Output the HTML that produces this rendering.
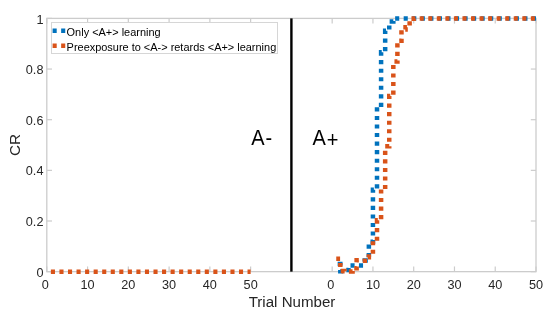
<!DOCTYPE html>
<html><head><meta charset="utf-8"><style>
html,body{margin:0;padding:0;background:#fff;width:550px;height:315px;overflow:hidden}
svg{display:block}
text{font-family:"Liberation Sans",Arial,Helvetica,sans-serif}
.tk{font-size:13.5px;fill:#262626}
.xl{font-size:15.5px;fill:#262626}
.yl{font-size:15px;fill:#262626}
.big{font-size:22.2px;fill:#000}
.lg{font-size:11.5px;fill:#000}
</style></head><body>
<svg width="550" height="315" viewBox="0 0 550 315">
<rect x="46.8" y="18.4" width="489.20" height="253.25" fill="#fff" stroke="#cccccc" stroke-width="1.3"/>
<line x1="46.80" y1="271.65" x2="46.80" y2="266.45" stroke="#cccccc" stroke-width="1.2"/>
<line x1="46.80" y1="18.40" x2="46.80" y2="23.60" stroke="#cccccc" stroke-width="1.2"/>
<line x1="87.57" y1="271.65" x2="87.57" y2="266.45" stroke="#cccccc" stroke-width="1.2"/>
<line x1="87.57" y1="18.40" x2="87.57" y2="23.60" stroke="#cccccc" stroke-width="1.2"/>
<line x1="128.33" y1="271.65" x2="128.33" y2="266.45" stroke="#cccccc" stroke-width="1.2"/>
<line x1="128.33" y1="18.40" x2="128.33" y2="23.60" stroke="#cccccc" stroke-width="1.2"/>
<line x1="169.10" y1="271.65" x2="169.10" y2="266.45" stroke="#cccccc" stroke-width="1.2"/>
<line x1="169.10" y1="18.40" x2="169.10" y2="23.60" stroke="#cccccc" stroke-width="1.2"/>
<line x1="209.87" y1="271.65" x2="209.87" y2="266.45" stroke="#cccccc" stroke-width="1.2"/>
<line x1="209.87" y1="18.40" x2="209.87" y2="23.60" stroke="#cccccc" stroke-width="1.2"/>
<line x1="250.63" y1="271.65" x2="250.63" y2="266.45" stroke="#cccccc" stroke-width="1.2"/>
<line x1="250.63" y1="18.40" x2="250.63" y2="23.60" stroke="#cccccc" stroke-width="1.2"/>
<line x1="332.17" y1="271.65" x2="332.17" y2="266.45" stroke="#cccccc" stroke-width="1.2"/>
<line x1="332.17" y1="18.40" x2="332.17" y2="23.60" stroke="#cccccc" stroke-width="1.2"/>
<line x1="372.94" y1="271.65" x2="372.94" y2="266.45" stroke="#cccccc" stroke-width="1.2"/>
<line x1="372.94" y1="18.40" x2="372.94" y2="23.60" stroke="#cccccc" stroke-width="1.2"/>
<line x1="413.70" y1="271.65" x2="413.70" y2="266.45" stroke="#cccccc" stroke-width="1.2"/>
<line x1="413.70" y1="18.40" x2="413.70" y2="23.60" stroke="#cccccc" stroke-width="1.2"/>
<line x1="454.47" y1="271.65" x2="454.47" y2="266.45" stroke="#cccccc" stroke-width="1.2"/>
<line x1="454.47" y1="18.40" x2="454.47" y2="23.60" stroke="#cccccc" stroke-width="1.2"/>
<line x1="495.24" y1="271.65" x2="495.24" y2="266.45" stroke="#cccccc" stroke-width="1.2"/>
<line x1="495.24" y1="18.40" x2="495.24" y2="23.60" stroke="#cccccc" stroke-width="1.2"/>
<line x1="536.00" y1="271.65" x2="536.00" y2="266.45" stroke="#cccccc" stroke-width="1.2"/>
<line x1="536.00" y1="18.40" x2="536.00" y2="23.60" stroke="#cccccc" stroke-width="1.2"/>
<line x1="46.8" y1="271.65" x2="52.0" y2="271.65" stroke="#cccccc" stroke-width="1.2"/>
<line x1="536.00" y1="271.65" x2="530.80" y2="271.65" stroke="#cccccc" stroke-width="1.2"/>
<line x1="46.8" y1="221.00" x2="52.0" y2="221.00" stroke="#cccccc" stroke-width="1.2"/>
<line x1="536.00" y1="221.00" x2="530.80" y2="221.00" stroke="#cccccc" stroke-width="1.2"/>
<line x1="46.8" y1="170.35" x2="52.0" y2="170.35" stroke="#cccccc" stroke-width="1.2"/>
<line x1="536.00" y1="170.35" x2="530.80" y2="170.35" stroke="#cccccc" stroke-width="1.2"/>
<line x1="46.8" y1="119.70" x2="52.0" y2="119.70" stroke="#cccccc" stroke-width="1.2"/>
<line x1="536.00" y1="119.70" x2="530.80" y2="119.70" stroke="#cccccc" stroke-width="1.2"/>
<line x1="46.8" y1="69.05" x2="52.0" y2="69.05" stroke="#cccccc" stroke-width="1.2"/>
<line x1="536.00" y1="69.05" x2="530.80" y2="69.05" stroke="#cccccc" stroke-width="1.2"/>
<line x1="46.8" y1="18.40" x2="52.0" y2="18.40" stroke="#cccccc" stroke-width="1.2"/>
<line x1="536.00" y1="18.40" x2="530.80" y2="18.40" stroke="#cccccc" stroke-width="1.2"/>
<polyline points="50.88,271.65 250.63,271.65" fill="none" stroke="#D95319" stroke-width="4.5" stroke-dasharray="4.1 4.45"/>
<polyline points="336.25,264.10 340.32,264.10 340.32,271.20 344.40,271.20 344.40,269.90 348.48,269.90 348.48,265.50 352.55,265.50 356.63,265.50 356.63,265.40 360.71,265.40 364.78,265.40" fill="none" stroke="#0072BD" stroke-width="4.5" stroke-dasharray="4.1 4.45" stroke-dashoffset="7.15"/>
<polyline points="364.78,265.40 364.78,260.60 368.86,260.60 368.86,241.70 372.94,241.70 372.94,189.70 377.01,189.70 377.01,107.10 381.09,107.10 381.09,52.20 385.17,52.20 385.17,30.80 389.24,30.80 389.24,21.45 393.32,21.45 393.32,18.40 397.40,18.40 536.00,18.40" fill="none" stroke="#0072BD" stroke-width="4.5" stroke-dasharray="4.1 4.45" stroke-dashoffset="4.8"/>
<polyline points="336.25,258.74 340.32,258.74 340.32,271.10 344.40,271.10 344.40,271.33 348.48,271.33 348.48,271.50 352.55,271.50 352.55,268.30 356.63,268.30 356.63,260.22 360.71,260.22 360.71,260.72 364.78,260.72 364.78,257.23 368.86,257.23 368.86,253.82 372.94,253.82 372.94,240.95 377.01,240.95 377.01,220.37 381.09,220.37 381.09,189.33 385.17,189.33 385.17,146.37 389.24,146.37 389.24,96.06 393.32,96.06 393.32,61.56 397.40,61.56 397.40,40.74 401.47,40.74 401.47,29.62 405.55,29.62 405.55,27.19 409.63,27.19 409.63,21.16 413.70,21.16 413.70,18.40 417.78,18.40 536.00,18.40" fill="none" stroke="#D95319" stroke-width="4.5" stroke-dasharray="4.1 4.45" stroke-dashoffset="0.249"/>
<line x1="291.40" y1="18.40" x2="291.40" y2="271.65" stroke="#000" stroke-width="2.4"/>
<text transform="translate(45.30,288.8) scale(0.94,1)" text-anchor="middle" class="tk">0</text>
<text transform="translate(87.57,288.8) scale(0.94,1)" text-anchor="middle" class="tk">10</text>
<text transform="translate(128.33,288.8) scale(0.94,1)" text-anchor="middle" class="tk">20</text>
<text transform="translate(169.10,288.8) scale(0.94,1)" text-anchor="middle" class="tk">30</text>
<text transform="translate(209.87,288.8) scale(0.94,1)" text-anchor="middle" class="tk">40</text>
<text transform="translate(250.63,288.8) scale(0.94,1)" text-anchor="middle" class="tk">50</text>
<text transform="translate(330.67,288.8) scale(0.94,1)" text-anchor="middle" class="tk">0</text>
<text transform="translate(372.94,288.8) scale(0.94,1)" text-anchor="middle" class="tk">10</text>
<text transform="translate(413.70,288.8) scale(0.94,1)" text-anchor="middle" class="tk">20</text>
<text transform="translate(454.47,288.8) scale(0.94,1)" text-anchor="middle" class="tk">30</text>
<text transform="translate(495.24,288.8) scale(0.94,1)" text-anchor="middle" class="tk">40</text>
<text transform="translate(536.00,288.8) scale(0.94,1)" text-anchor="middle" class="tk">50</text>
<text transform="translate(43.45,276.75) scale(0.94,1)" text-anchor="end" class="tk">0</text>
<text transform="translate(43.45,226.10) scale(0.94,1)" text-anchor="end" class="tk">0.2</text>
<text transform="translate(43.45,175.45) scale(0.94,1)" text-anchor="end" class="tk">0.4</text>
<text transform="translate(43.45,124.80) scale(0.94,1)" text-anchor="end" class="tk">0.6</text>
<text transform="translate(43.45,74.15) scale(0.94,1)" text-anchor="end" class="tk">0.8</text>
<text transform="translate(43.45,23.50) scale(0.94,1)" text-anchor="end" class="tk">1</text>
<text transform="translate(292,307.1) scale(0.975,1)" text-anchor="middle" class="xl">Trial Number</text>
<text transform="translate(20,144.95) rotate(-90) scale(1.02,1)" text-anchor="middle" class="yl">CR</text>
<text transform="translate(251.3,144.7) scale(0.9,1)" class="big">A<tspan dx="1.1">-</tspan></text>
<text transform="translate(312.4,144.7) scale(0.9,1)" class="big">A<tspan dx="1.1" dy="2.5">+</tspan></text>
<rect x="51.5" y="22.5" width="226" height="31" fill="#fff" stroke="#d6d6d6" stroke-width="1"/>
<line x1="52.6" y1="30.7" x2="65.4" y2="30.7" stroke="#0072BD" stroke-width="4.5" stroke-dasharray="4.1 4.45"/>
<line x1="52.6" y1="45.7" x2="65.4" y2="45.7" stroke="#D95319" stroke-width="4.5" stroke-dasharray="4.1 4.45"/>
<text transform="translate(66.6,35.8) scale(0.953,1)" class="lg">Only &lt;A+&gt; learning</text>
<text transform="translate(66.6,50.5) scale(0.953,1)" class="lg">Preexposure to &lt;A-&gt; retards &lt;A+&gt; learning</text>
</svg>
</body></html>
